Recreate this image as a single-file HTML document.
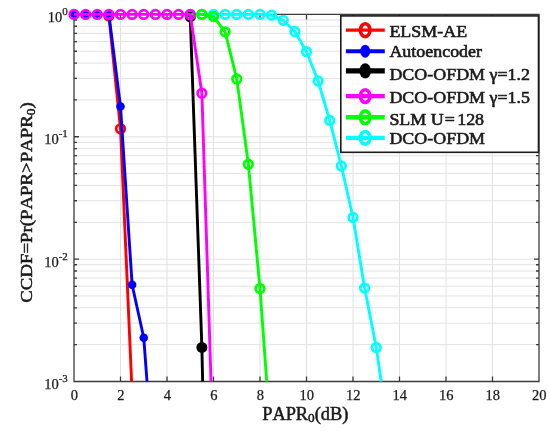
<!DOCTYPE html>
<html><head><meta charset="utf-8"><title>CCDF of PAPR</title>
<style>html,body{margin:0;padding:0;background:#fff;}body{width:550px;height:431px;overflow:hidden;}svg{display:block;}text{font-family:"Liberation Serif","Times New Roman",serif;font-kerning:none;fill:#1a1a1a;stroke:#1a1a1a;stroke-width:0.45px;}text.t{stroke-width:0.25px;}</style>
</head><body>
<svg width="550" height="431" viewBox="0 0 550 431">
<rect x="0" y="0" width="550" height="431" fill="#ffffff"/>
<path d="M120.5 14.4V381.5M167 14.4V381.5M213.5 14.4V381.5M260 14.4V381.5M306.5 14.4V381.5M353 14.4V381.5M399.5 14.4V381.5M446 14.4V381.5M492.5 14.4V381.5" stroke="#e2e2e2" stroke-width="1" fill="none"/>
<path d="M74 136.77H539M74 259.13H539" stroke="#e2e2e2" stroke-width="1" fill="none"/>
<path d="M74 99.93H539M74 78.38H539M74 63.09H539M74 51.24H539M74 41.55H539M74 33.35H539M74 26.26H539M74 20H539M74 222.3H539M74 200.75H539M74 185.46H539M74 173.6H539M74 163.91H539M74 155.72H539M74 148.63H539M74 142.37H539M74 344.66H539M74 323.12H539M74 307.83H539M74 295.97H539M74 286.28H539M74 278.09H539M74 270.99H539M74 264.73H539" stroke="#e2e2e2" stroke-width="1" fill="none"/>
<path d="M74 14.4H539V381.5H74ZM74 381.5v-5M74 14.4v5M120.5 381.5v-5M120.5 14.4v5M167 381.5v-5M167 14.4v5M213.5 381.5v-5M213.5 14.4v5M260 381.5v-5M260 14.4v5M306.5 381.5v-5M306.5 14.4v5M353 381.5v-5M353 14.4v5M399.5 381.5v-5M399.5 14.4v5M446 381.5v-5M446 14.4v5M492.5 381.5v-5M492.5 14.4v5M539 381.5v-5M539 14.4v5M74 14.4h5M539 14.4h-5M74 136.77h5M539 136.77h-5M74 259.13h5M539 259.13h-5M74 381.5h5M539 381.5h-5M74 99.93h3M539 99.93h-3M74 78.38h3M539 78.38h-3M74 63.09h3M539 63.09h-3M74 51.24h3M539 51.24h-3M74 41.55h3M539 41.55h-3M74 33.35h3M539 33.35h-3M74 26.26h3M539 26.26h-3M74 20h3M539 20h-3M74 222.3h3M539 222.3h-3M74 200.75h3M539 200.75h-3M74 185.46h3M539 185.46h-3M74 173.6h3M539 173.6h-3M74 163.91h3M539 163.91h-3M74 155.72h3M539 155.72h-3M74 148.63h3M539 148.63h-3M74 142.37h3M539 142.37h-3M74 344.66h3M539 344.66h-3M74 323.12h3M539 323.12h-3M74 307.83h3M539 307.83h-3M74 295.97h3M539 295.97h-3M74 286.28h3M539 286.28h-3M74 278.09h3M539 278.09h-3M74 270.99h3M539 270.99h-3M74 264.73h3M539 264.73h-3" stroke="#3a3a3a" stroke-width="1.3" fill="none"/>
<g fill="none" stroke-linejoin="round" stroke-linecap="butt">
<path d="M108.88 16.02 L120.5 128.79 L131.6 381.5" stroke="#ff0000" stroke-width="2.9"/>
<circle cx="108.88" cy="16.02" r="4.3" stroke="#ff0000" stroke-width="2.7"/>
<circle cx="120.5" cy="128.79" r="4.3" stroke="#ff0000" stroke-width="2.7"/>
<path d="M74 14.4 L85.62 14.4 L97.25 14.4 L108.88 14.4 L120.5 106.48 L132.12 284.71 L143.75 337.7 L147 381.5" stroke="#0000ff" stroke-width="2.9"/>
<circle cx="74" cy="14.4" r="4.3" fill="#0000ff" stroke="none"/>
<circle cx="85.62" cy="14.4" r="4.3" fill="#0000ff" stroke="none"/>
<circle cx="97.25" cy="14.4" r="4.3" fill="#0000ff" stroke="none"/>
<circle cx="108.88" cy="14.4" r="4.3" fill="#0000ff" stroke="none"/>
<circle cx="120.5" cy="106.48" r="4.3" fill="#0000ff" stroke="none"/>
<circle cx="132.12" cy="284.71" r="4.3" fill="#0000ff" stroke="none"/>
<circle cx="143.75" cy="337.7" r="4.3" fill="#0000ff" stroke="none"/>
<path d="M190.25 16.9 L201.88 347.39 L202.63 381.5" stroke="#000000" stroke-width="2.9"/>
<circle cx="190.25" cy="16.9" r="5.5" fill="#000000" stroke="none"/>
<circle cx="201.88" cy="347.39" r="5.5" fill="#000000" stroke="none"/>
<path d="M201.88 14.4 L213.5 14.4 L225.12 14.4 L236.75 14.4 L248.38 14.4 L260 14.4 L271.62 15.2 L283.25 20.3 L294.88 31.49 L306.5 51.66 L318.12 81 L329.75 120.43 L341.38 165.99 L353 217.47 L364.62 288.08 L376.25 347.39 L381.19 381.5" stroke="#00ffff" stroke-width="2.9"/>
<circle cx="201.88" cy="14.4" r="4.3" stroke="#00ffff" stroke-width="2.7"/>
<circle cx="213.5" cy="14.4" r="4.3" stroke="#00ffff" stroke-width="2.7"/>
<circle cx="225.12" cy="14.4" r="4.3" stroke="#00ffff" stroke-width="2.7"/>
<circle cx="236.75" cy="14.4" r="4.3" stroke="#00ffff" stroke-width="2.7"/>
<circle cx="248.38" cy="14.4" r="4.3" stroke="#00ffff" stroke-width="2.7"/>
<circle cx="260" cy="14.4" r="4.3" stroke="#00ffff" stroke-width="2.7"/>
<circle cx="271.62" cy="15.2" r="4.3" stroke="#00ffff" stroke-width="2.7"/>
<circle cx="283.25" cy="20.3" r="4.3" stroke="#00ffff" stroke-width="2.7"/>
<circle cx="294.88" cy="31.49" r="4.3" stroke="#00ffff" stroke-width="2.7"/>
<circle cx="306.5" cy="51.66" r="4.3" stroke="#00ffff" stroke-width="2.7"/>
<circle cx="318.12" cy="81" r="4.3" stroke="#00ffff" stroke-width="2.7"/>
<circle cx="329.75" cy="120.43" r="4.3" stroke="#00ffff" stroke-width="2.7"/>
<circle cx="341.38" cy="165.99" r="4.3" stroke="#00ffff" stroke-width="2.7"/>
<circle cx="353" cy="217.47" r="4.3" stroke="#00ffff" stroke-width="2.7"/>
<circle cx="364.62" cy="288.08" r="4.3" stroke="#00ffff" stroke-width="2.7"/>
<circle cx="376.25" cy="347.39" r="4.3" stroke="#00ffff" stroke-width="2.7"/>
<path d="M190.25 14.4 L201.88 14.4 L213.5 16.51 L225.12 31.86 L236.75 78.92 L248.38 164.27 L260 288.54 L266.73 381.5" stroke="#00ff00" stroke-width="2.9"/>
<circle cx="190.25" cy="14.4" r="4.3" stroke="#00ff00" stroke-width="2.7"/>
<circle cx="201.88" cy="14.4" r="4.3" stroke="#00ff00" stroke-width="2.7"/>
<circle cx="213.5" cy="16.51" r="4.3" stroke="#00ff00" stroke-width="2.7"/>
<circle cx="225.12" cy="31.86" r="4.3" stroke="#00ff00" stroke-width="2.7"/>
<circle cx="236.75" cy="78.92" r="4.3" stroke="#00ff00" stroke-width="2.7"/>
<circle cx="248.38" cy="164.27" r="4.3" stroke="#00ff00" stroke-width="2.7"/>
<circle cx="260" cy="288.54" r="4.3" stroke="#00ff00" stroke-width="2.7"/>
<path d="M74 14.4 L85.62 14.4 L97.25 14.4 L108.88 14.4 L120.5 14.4 L132.12 14.4 L143.75 14.4 L155.38 14.4 L167 14.4 L178.62 14.4 L190.25 14.4 L201.88 93.2 L211.02 381.5" stroke="#ff00ff" stroke-width="2.9"/>
<circle cx="74" cy="14.4" r="4.3" stroke="#ff00ff" stroke-width="2.7"/>
<circle cx="85.62" cy="14.4" r="4.3" stroke="#ff00ff" stroke-width="2.7"/>
<circle cx="97.25" cy="14.4" r="4.3" stroke="#ff00ff" stroke-width="2.7"/>
<circle cx="108.88" cy="14.4" r="4.3" stroke="#ff00ff" stroke-width="2.7"/>
<circle cx="120.5" cy="14.4" r="4.3" stroke="#ff00ff" stroke-width="2.7"/>
<circle cx="132.12" cy="14.4" r="4.3" stroke="#ff00ff" stroke-width="2.7"/>
<circle cx="143.75" cy="14.4" r="4.3" stroke="#ff00ff" stroke-width="2.7"/>
<circle cx="155.38" cy="14.4" r="4.3" stroke="#ff00ff" stroke-width="2.7"/>
<circle cx="167" cy="14.4" r="4.3" stroke="#ff00ff" stroke-width="2.7"/>
<circle cx="178.62" cy="14.4" r="4.3" stroke="#ff00ff" stroke-width="2.7"/>
<circle cx="190.25" cy="14.4" r="4.3" stroke="#ff00ff" stroke-width="2.7"/>
<circle cx="201.88" cy="93.2" r="4.3" stroke="#ff00ff" stroke-width="2.7"/>
</g>
<text x="74.3" y="400.3" font-size="14.5" text-anchor="middle" class="t">0</text>
<text x="120.8" y="400.3" font-size="14.5" text-anchor="middle" class="t">2</text>
<text x="167.3" y="400.3" font-size="14.5" text-anchor="middle" class="t">4</text>
<text x="213.8" y="400.3" font-size="14.5" text-anchor="middle" class="t">6</text>
<text x="260.3" y="400.3" font-size="14.5" text-anchor="middle" class="t">8</text>
<text x="306.8" y="400.3" font-size="14.5" text-anchor="middle" class="t">10</text>
<text x="353.3" y="400.3" font-size="14.5" text-anchor="middle" class="t">12</text>
<text x="399.8" y="400.3" font-size="14.5" text-anchor="middle" class="t">14</text>
<text x="446.3" y="400.3" font-size="14.5" text-anchor="middle" class="t">16</text>
<text x="492.8" y="400.3" font-size="14.5" text-anchor="middle" class="t">18</text>
<text x="539.3" y="400.3" font-size="14.5" text-anchor="middle" class="t">20</text>
<text x="67.8" y="22" font-size="14.5" text-anchor="end" class="t">10<tspan font-size="11" dy="-7.2">0</tspan></text>
<text x="67.8" y="144.37" font-size="14.5" text-anchor="end" class="t">10<tspan font-size="11" dy="-7.2">-1</tspan></text>
<text x="67.8" y="266.73" font-size="14.5" text-anchor="end" class="t">10<tspan font-size="11" dy="-7.2">-2</tspan></text>
<text x="67.8" y="389.1" font-size="14.5" text-anchor="end" class="t">10<tspan font-size="11" dy="-7.2">-3</tspan></text>
<text transform="translate(305.3 420.1) scale(1.02 1)" x="0" y="0" font-size="18" text-anchor="middle" style="stroke-width:0.5px">PAPR<tspan font-size="13" dy="1.6">0</tspan><tspan dy="-1.6">(dB)</tspan></text>
<text transform="translate(32.2 202.5) rotate(-90) scale(1.075 1)" x="0" y="0" font-size="17.5" text-anchor="middle" style="stroke-width:0.5px">CCDF=Pr(PAPR&gt;PAPR<tspan font-size="12.5" dy="2.3">0</tspan><tspan dy="-2.3">)</tspan></text>
<rect x="340.8" y="15.9" width="197.7" height="136.4" fill="#ffffff" stroke="#1a1a1a" stroke-width="1.6"/>
<path d="M345.9 30.2H384.8" stroke="#ff0000" stroke-width="3.2" fill="none"/>
<ellipse cx="365.2" cy="30.2" rx="4.8" ry="6.4" fill="none" stroke="#ff0000" stroke-width="3.6"/>
<text transform="translate(389.4 36.9) scale(1.055 1)" x="0" y="0" font-size="17" style="stroke-width:0.6px">ELSM-AE</text>
<path d="M345.9 51.2H384.8" stroke="#0000ff" stroke-width="4.1" fill="none"/>
<ellipse cx="365.2" cy="51.2" rx="4.9" ry="6.5" fill="#0000ff"/>
<text transform="translate(389.4 57.3) scale(1.055 1)" x="0" y="0" font-size="17" style="stroke-width:0.6px">Autoencoder</text>
<path d="M345.9 70.8H384.8" stroke="#000000" stroke-width="5.2" fill="none"/>
<ellipse cx="365.2" cy="70.8" rx="5.8" ry="7.6" fill="#000000"/>
<text transform="translate(389.4 79.9) scale(1.055 1)" x="0" y="0" font-size="17" style="stroke-width:0.6px">DCO-OFDM γ=1.2</text>
<path d="M345.9 96.1H384.8" stroke="#ff00ff" stroke-width="4.4" fill="none"/>
<ellipse cx="365.2" cy="96.1" rx="4.8" ry="6.4" fill="none" stroke="#ff00ff" stroke-width="3.6"/>
<text transform="translate(389.4 102.6) scale(1.055 1)" x="0" y="0" font-size="17" style="stroke-width:0.6px">DCO-OFDM γ=1.5</text>
<path d="M345.9 117.3H384.8" stroke="#00ff00" stroke-width="4.5" fill="none"/>
<ellipse cx="365.2" cy="117.3" rx="4.8" ry="6.4" fill="none" stroke="#00ff00" stroke-width="3.6"/>
<text transform="translate(389.4 124.6) scale(1.055 1)" x="0" y="0" font-size="17" style="stroke-width:0.6px">SLM U<tspan dx="1">=</tspan><tspan dx="2.2">128</tspan></text>
<path d="M345.9 137.9H384.8" stroke="#00ffff" stroke-width="4.3" fill="none"/>
<ellipse cx="365.2" cy="137.9" rx="4.8" ry="6.4" fill="none" stroke="#00ffff" stroke-width="3.6"/>
<text transform="translate(389.4 144.4) scale(1.055 1)" x="0" y="0" font-size="17" style="stroke-width:0.6px">DCO-OFDM</text>
</svg>
</body></html>
